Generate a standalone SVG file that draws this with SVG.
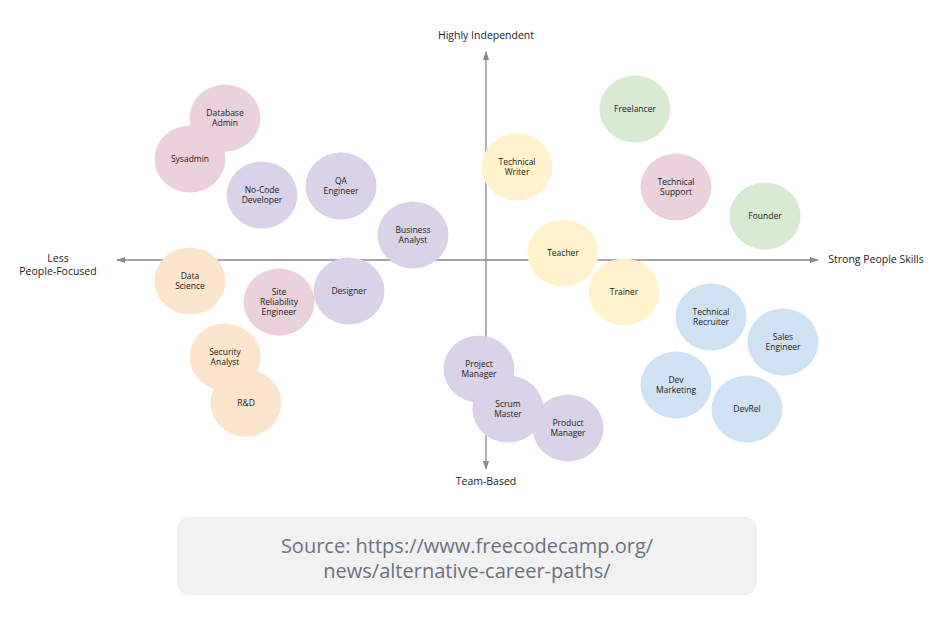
<svg xmlns="http://www.w3.org/2000/svg" width="934" height="640" viewBox="0 0 934 640">
<style>
.n{stroke:none}
.pk{fill:#ead1dc}.pu{fill:#d9d2e9}.or{fill:#fce5cd}.ye{fill:#fff2cc}.gr{fill:#d9ead3}.bl{fill:#cfe2f3}
text{font-family:"Open Sans","Liberation Sans",sans-serif;fill:#222;text-anchor:middle}
.t{font-size:8.5px}
.ax{font-size:10.5px}
.src{font-size:20px;fill:#6b7280}
.axis{stroke:#8a8a8a;stroke-width:1.3;fill:none}
</style>
<defs>
<marker id="ah" viewBox="0 0 10 10" refX="9" refY="5" markerWidth="7" markerHeight="7" orient="auto"><path d="M0,1.5 L10,5 L0,8.5z" fill="#8a8a8a"/></marker>
<ellipse id="c" rx="35.5" ry="33.5"/>
</defs>
<rect width="934" height="640" fill="#fff"/>
<g id="connectors">
<line class="axis" x1="486" y1="260" x2="117" y2="260" marker-end="url(#ah)"/>
<line class="axis" x1="486" y1="260" x2="818" y2="260" marker-end="url(#ah)"/>
<line class="axis" x1="486" y1="260" x2="486" y2="52" marker-end="url(#ah)"/>
<line class="axis" x1="486" y1="260" x2="486" y2="469" marker-end="url(#ah)"/>
</g>
<g id="axis-labels">
<text class="ax" x="486" y="39">Highly Independent</text>
<text class="ax" x="486" y="485">Team-Based</text>
<text class="ax" x="876" y="263">Strong People Skills</text>
<text class="ax" x="58" y="262">Less</text>
<text class="ax" x="58" y="275">People-Focused</text>
</g>
<g id="database-admin"><use href="#c" class="pk" x="225" y="118"/><text class="t" x="225" y="116">Database</text><text class="t" x="225" y="126">Admin</text></g>
<g id="sysadmin"><use href="#c" class="pk" x="190" y="159"/><text class="t" x="190" y="162">Sysadmin</text></g>
<g id="no-code"><use href="#c" class="pu" x="262" y="195"/><text class="t" x="262" y="193">No-Code</text><text class="t" x="262" y="203">Developer</text></g>
<g id="qa"><use href="#c" class="pu" x="341" y="186"/><text class="t" x="341" y="184">QA</text><text class="t" x="341" y="194">Engineer</text></g>
<g id="business-analyst"><use href="#c" class="pu" x="413" y="235"/><text class="t" x="413" y="233">Business</text><text class="t" x="413" y="243">Analyst</text></g>
<g id="data-science"><use href="#c" class="or" x="190" y="281"/><text class="t" x="190" y="279">Data</text><text class="t" x="190" y="289">Science</text></g>
<g id="designer"><use href="#c" class="pu" x="349" y="291"/><text class="t" x="349" y="294">Designer</text></g>
<g id="sre"><use href="#c" class="pk" x="279" y="302"/><text class="t" x="279" y="295">Site</text><text class="t" x="279" y="305">Reliability</text><text class="t" x="279" y="315">Engineer</text></g>
<g id="security-analyst"><use href="#c" class="or" x="225" y="357"/><text class="t" x="225" y="355">Security</text><text class="t" x="225" y="365">Analyst</text></g>
<g id="rnd"><use href="#c" class="or" x="246" y="403"/><text class="t" x="246" y="406">R&amp;D</text></g>
<g id="technical-writer"><use href="#c" class="ye" x="517" y="167"/><text class="t" x="517" y="165">Technical</text><text class="t" x="517" y="175">Writer</text></g>
<g id="freelancer"><use href="#c" class="gr" x="635" y="109"/><text class="t" x="635" y="112">Freelancer</text></g>
<g id="technical-support"><use href="#c" class="pk" x="676" y="187"/><text class="t" x="676" y="185">Technical</text><text class="t" x="676" y="195">Support</text></g>
<g id="founder"><use href="#c" class="gr" x="765" y="216"/><text class="t" x="765" y="219">Founder</text></g>
<g id="teacher"><use href="#c" class="ye" x="563" y="253"/><text class="t" x="563" y="256">Teacher</text></g>
<g id="trainer"><use href="#c" class="ye" x="624" y="292"/><text class="t" x="624" y="295">Trainer</text></g>
<g id="technical-recruiter"><use href="#c" class="bl" x="711" y="317"/><text class="t" x="711" y="315">Technical</text><text class="t" x="711" y="325">Recruiter</text></g>
<g id="sales-engineer"><use href="#c" class="bl" x="783" y="342"/><text class="t" x="783" y="340">Sales</text><text class="t" x="783" y="350">Engineer</text></g>
<g id="dev-marketing"><use href="#c" class="bl" x="676" y="385"/><text class="t" x="676" y="383">Dev</text><text class="t" x="676" y="393">Marketing</text></g>
<g id="devrel"><use href="#c" class="bl" x="747" y="409"/><text class="t" x="747" y="412">DevRel</text></g>
<g id="project-manager"><use href="#c" class="pu" x="479" y="369"/><text class="t" x="479" y="367">Project</text><text class="t" x="479" y="377">Manager</text></g>
<g id="scrum-master"><use href="#c" class="pu" x="508" y="409"/><text class="t" x="508" y="407">Scrum</text><text class="t" x="508" y="417">Master</text></g>
<g id="product-manager"><use href="#c" class="pu" x="568" y="428"/><text class="t" x="568" y="426">Product</text><text class="t" x="568" y="436">Manager</text></g>
<g id="source">
<rect x="177" y="517" width="580" height="78" rx="12" fill="#f1f1f1"/>
<text class="src" x="467" y="553">Source:  https://www.freecodecamp.org/</text>
<text class="src" x="467" y="578">news/alternative-career-paths/</text>
</g>
</svg>
